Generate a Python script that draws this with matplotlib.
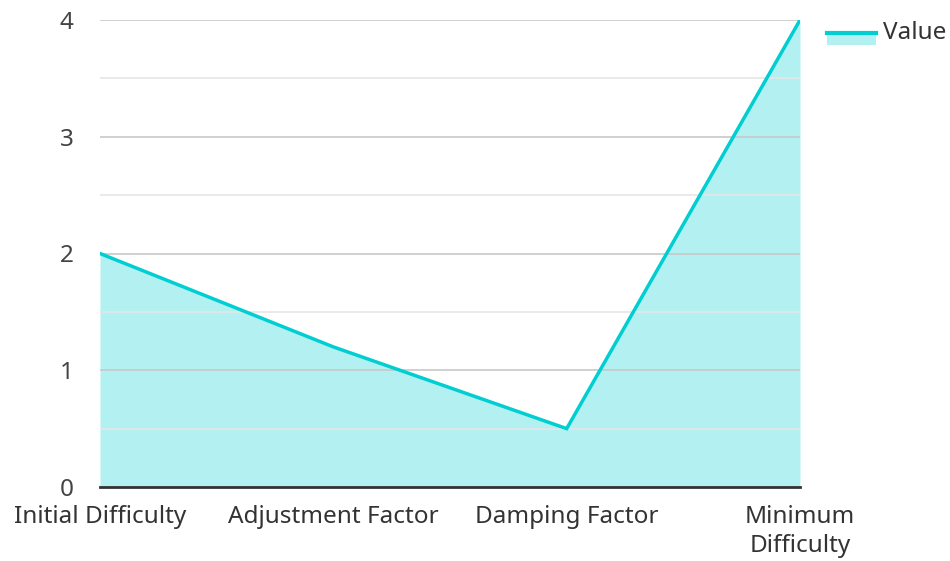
import numpy as np
import matplotlib.pyplot as plt
from matplotlib.lines import Line2D
from matplotlib.patches import Rectangle

plt.rcParams['font.family'] = ['Noto Sans', 'DejaVu Sans']

categories = ["Initial Difficulty", "Adjustment Factor", "Damping Factor", "Minimum\nDifficulty"]
values = [2, 1.2, 0.5, 4]
series_name = "Value"

line_color = "#00CED1"
font_size = 17.5
W, H = 950, 561

fig = plt.figure(figsize=(W / 100, H / 100), dpi=100)
ax = fig.add_axes([100 / W, 74 / H, 700 / W, 467 / H])

x = np.arange(len(categories))
ax.fill_between(x, 0, values, color=line_color, alpha=0.3, linewidth=0, zorder=1)
ax.plot(x, values, color=line_color, linewidth=2.5, zorder=3, solid_joinstyle='miter')

ax.set_xlim(0, len(categories) - 1)
ax.set_ylim(0, 4)
ax.set_yticks([0, 1, 2, 3, 4])
ax.set_yticks(np.arange(0.5, 4, 1), minor=True)
ax.set_xticks(x)
ax.set_xticklabels(categories, linespacing=1.3)

ax.grid(axis='y', which='major', color='#c8c8c8', linewidth=1.2, zorder=2)
ax.grid(axis='y', which='minor', color='#e6e6e6', linewidth=1.2, zorder=2)
ax.set_axisbelow(False)

for s in ['top', 'right', 'left']:
    ax.spines[s].set_visible(False)
ax.spines['bottom'].set_color('#333333')
ax.spines['bottom'].set_linewidth(2)
ax.spines['bottom'].set_zorder(4)

ax.tick_params(axis='both', which='both', length=0, labelsize=font_size, colors='#333333')
ax.tick_params(axis='y', pad=19)
ax.tick_params(axis='x', pad=13)
for lbl in ax.get_yticklabels():
    lbl.set_color('#444444')

# legend key: shaded block with the line on its top edge
fig.add_artist(Rectangle((827 / W, (H - 45) / H), 49 / W, 12 / H,
                         transform=fig.transFigure, facecolor=line_color, alpha=0.3,
                         edgecolor='none'))
fig.add_artist(Line2D([827 / W, 876 / W], [(H - 33) / H, (H - 33) / H],
                      transform=fig.transFigure, color=line_color, linewidth=3))
fig.text(883 / W, (H - 33) / H, series_name, fontsize=font_size, color='#333333',
         ha='left', va='center')

fig.savefig("out.png", dpi=100)
